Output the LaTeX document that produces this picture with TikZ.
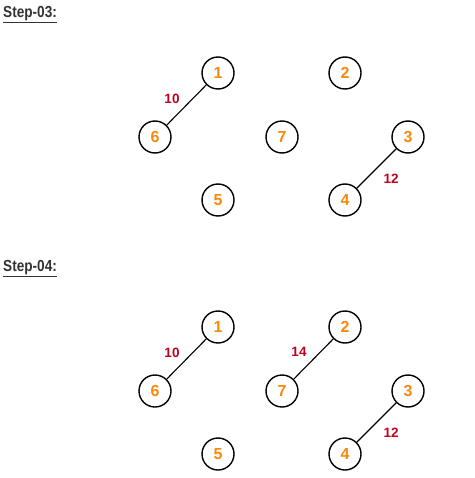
\documentclass[tikz,border=0pt]{standalone}
\usepackage{fontspec}
\setmainfont{Liberation Sans}
\newfontfamily\titlefont[FakeStretch=0.85]{Liberation Sans}
\definecolor{numorange}{HTML}{F7890C}
\definecolor{wred}{HTML}{C0001F}
\definecolor{titlegray}{HTML}{333333}
\begin{document}
\begin{tikzpicture}[x=1pt,y=-1pt,
  vert/.style={circle,draw=black,line width=1.4pt,minimum size=32pt,inner sep=0pt,
    text=numorange,font=\fontsize{16}{16}\selectfont\bfseries},
  edge/.style={line width=1.1pt,black},
  wlabel/.style={text=wred,font=\fontsize{13.5}{13.5}\selectfont\bfseries,inner sep=0pt},
  title/.style={anchor=west,inner sep=0pt,text=titlegray,font=\titlefont\fontsize{16}{16}\selectfont\bfseries}]
\useasboundingbox (0,0) rectangle (474,478);
% Step-03
\node[title] (t3) at (3,15) {\underline{Step-03:}};
\node[vert] (a1) at (218,73) {1};
\node[vert] (a2) at (345,73) {2};
\node[vert] (a6) at (155,137) {6};
\node[vert] (a7) at (282,137) {7};
\node[vert] (a3) at (408,137) {3};
\node[vert] (a5) at (218,200) {5};
\node[vert] (a4) at (345,200) {4};
\draw[edge] (a1) -- (a6);
\draw[edge] (a3) -- (a4);
\node[wlabel] (w10a) at (172,99) {10};
\node[wlabel] (w12a) at (391,179) {12};
% Step-04
\node[title] (t4) at (3,269) {\underline{Step-04:}};
\node[vert] (b1) at (218,327) {1};
\node[vert] (b2) at (345,327) {2};
\node[vert] (b6) at (155,391) {6};
\node[vert] (b7) at (282,391) {7};
\node[vert] (b3) at (408,391) {3};
\node[vert] (b5) at (218,454) {5};
\node[vert] (b4) at (345,454) {4};
\draw[edge] (b1) -- (b6);
\draw[edge] (b2) -- (b7);
\draw[edge] (b3) -- (b4);
\node[wlabel] (w10b) at (172,353) {10};
\node[wlabel] (w14b) at (299,352) {14};
\node[wlabel] (w12b) at (391,433) {12};
\end{tikzpicture}
\end{document}
